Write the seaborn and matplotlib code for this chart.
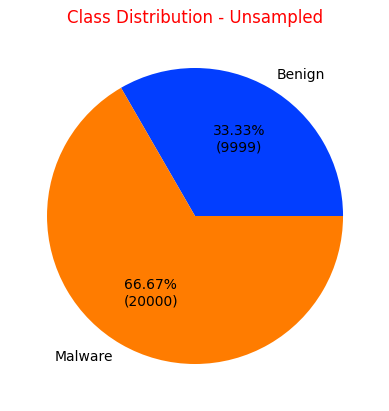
import matplotlib
matplotlib.use("Agg")
import matplotlib.pyplot as plt
import seaborn as sns

# class counts
labels = ["Benign", "Malware"]
counts = [9999, 20000]

colors = sns.color_palette("bright")[:2]
total = sum(counts)


def fmt(pct):
    # percentage with absolute count underneath
    return "{:.2f}%\n({:d})".format(pct, int(round(pct * total / 100.0)))


fig, ax = plt.subplots(figsize=(3.89, 4.11), dpi=100)
ax.pie(counts, labels=labels, colors=colors, autopct=fmt)
ax.set_title("Class Distribution - Unsampled", color="red")
fig.subplots_adjust(left=0.0257, right=0.977, bottom=0.0243, top=0.9246)
plt.savefig("out.png", dpi=100)
